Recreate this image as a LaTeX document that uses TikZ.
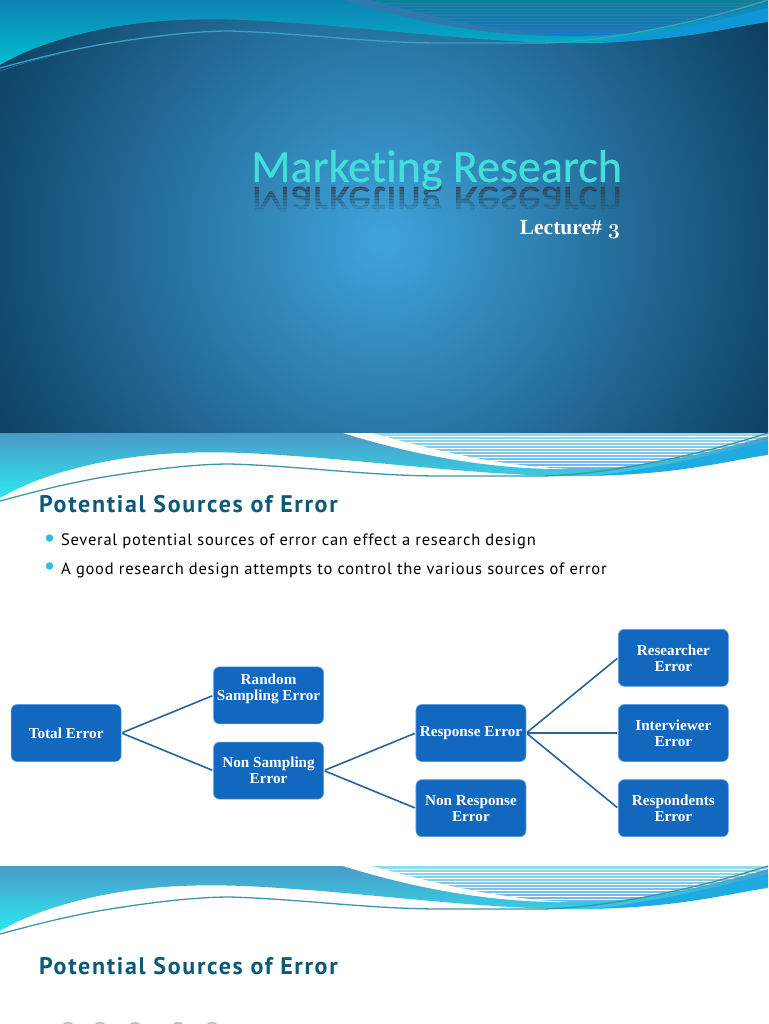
\documentclass[tikz,border=0pt]{standalone}
\usepackage{fontspec}
\usepackage{tikz}
\usetikzlibrary{matrix}
\newfontfamily\titlefont[Ligatures=NoCommon,FakeBold=0.6]{Carlito}
\newfontfamily\headfont[LetterSpace=7]{PT Sans}
\newfontfamily\bulletfont[LetterSpace=4.6]{PT Sans}
\newfontfamily\boxfont{Liberation Serif}
\newfontfamily\oldfig[Numbers=OldStyle]{Latin Modern Roman}
\definecolor{boxblue}{HTML}{1268BE}
\definecolor{boxedge}{HTML}{5C9FE0}
\definecolor{linkblue}{HTML}{2A62A0}
\definecolor{headteal}{HTML}{0D5A78}
\definecolor{bulletcyan}{HTML}{22C4DC}
\definecolor{titlecyan}{HTML}{45DCDC}
\definecolor{glowin}{RGB}{64,164,220}
\definecolor{glowout}{RGB}{4,48,79}
\definecolor{mirrorgray}{RGB}{45,62,78}
% first slide wave
\definecolor{darktop}{RGB}{15,130,178}
\definecolor{darkbot}{RGB}{0,190,208}
\definecolor{darkswoosh}{RGB}{44,122,174}
\definecolor{darkstripea}{RGB}{12,130,150}
\definecolor{darkstripeb}{RGB}{20,120,200}
\definecolor{darktip}{RGB}{14,150,214}
\definecolor{darkline}{RGB}{60,160,190}
% other slides wave
\definecolor{lighttop}{RGB}{74,154,200}
\definecolor{lightbot}{RGB}{44,232,240}
\definecolor{lightstripea}{RGB}{150,220,228}
\definecolor{lightstripeb}{RGB}{110,176,236}
\definecolor{lighttip}{RGB}{30,170,226}
\definecolor{lightline}{RGB}{60,150,170}
\tikzset{
	errorbox/.style={draw=boxedge, line width=0.6pt, fill=boxblue, rounded corners=6pt, text=white,
		minimum width=110pt, minimum height=57pt, inner sep=0pt, align=center, font=\boxfont\bfseries\fontsize{15.2}{16}\selectfont},
	link/.style={draw=linkblue, line width=1.6pt, shorten <=1pt, shorten >=1pt},
	heading/.style={anchor=base west, inner sep=0pt, text=headteal, font=\headfont\bfseries\fontsize{24}{28}\selectfont},
	bullettext/.style={anchor=base west, inner sep=0pt, text=black, font=\bulletfont\fontsize{16.5}{20}\selectfont},
	bulletdot/.style={circle, fill=bulletcyan, minimum size=7.5pt, inner sep=0pt},
}
% the wave at the top of a slide
\newcommand{\slidewave}[8]{
\begin{scope}[yshift=#1]
	\shade[top color=#2, bottom color=#3]
	(0,0) -- (768,0) -- (768,22) .. controls (700,32) and (640,45) .. (564,43)
	.. controls (480,42) and (370,28) .. (294,23) .. controls (240,19) and (170,15) .. (98,30)
	.. controls (60,38) and (25,50) .. (0,65) -- cycle;
	\fill[#7] (768,8) .. controls (720,20) and (670,33) .. (600,42)
	.. controls (660,42) and (715,32) .. (768,21) -- cycle;
	\fill[#4] (343,0) .. controls (400,18) and (480,36) .. (560,36) -- (600,35) -- (372,0) -- cycle;
	\begin{scope}
		\clip (372,0) .. controls (430,16) and (500,34) .. (575,36)
		.. controls (640,36) and (700,22) .. (768,3) -- (768,0) -- cycle;
		\shade[top color=#5, bottom color=#6] (372,0) rectangle (768,37);
		\foreach \ypos in {3,6,...,33}
			\draw[#4, line width=0.7pt] (372,\ypos) -- (768,\ypos);
	\end{scope}
	\draw[#8, line width=1.3pt] (0,68) .. controls (30,60) and (60,52) .. (98,45)
	.. controls (140,38) and (190,31) .. (230,31) .. controls (300,33) and (370,43) .. (441,43)
	-- (539,43) .. controls (590,43) and (680,28) .. (768,0);
	\draw[#4, line width=0.5pt] (0,71) .. controls (15,66) and (30,61) .. (60,54);
\end{scope}
}
\begin{document}
\begin{tikzpicture}[x=1pt,y=-1pt]
\useasboundingbox (0,0) rectangle (768,1024);
\fill[white] (0,0) rectangle (768,1024);

% title slide
\begin{scope}
	\clip (0,0) rectangle (768,433);
	\shade[inner color=glowin, outer color=glowout] (-120,-260) rectangle (888,740);
	\slidewave{0pt}{darktop}{darkbot}{darkswoosh}{darkstripea}{darkstripeb}{darktip}{darkline}
\end{scope}
% reflection, in strips that get fainter
\foreach \ypos/\fade in {185/0.7,188/0.62,191/0.54,194/0.46,197/0.38,200/0.3,203/0.22,206/0.14,209/0.07}
{
	\begin{scope}
		\clip (240,\ypos) rectangle (640,\ypos+3);
		\node[anchor=base east, yscale=-1, inner sep=0pt, text=mirrorgray, text opacity=\fade, font=\titlefont\fontsize{46}{50}\selectfont] (mirror\ypos) at (622,187) {Marketing Research};
	\end{scope}
}
\node[anchor=base east, inner sep=0pt, text=titlecyan, font=\titlefont\fontsize{46}{50}\selectfont] (title) at (622,182) {Marketing Research};
\node[anchor=base east, inner sep=0pt, text=white, font=\boxfont\bfseries\fontsize{21.5}{24}\selectfont] (lecture) at (621,234) {Lecture\# {\oldfig 3}};

% second slide
\slidewave{-433pt}{lighttop}{lightbot}{white}{lightstripea}{lightstripeb}{lighttip}{lightline}
\node[heading] (head) at (39,512) {Potential Sources of Error};
\node[bulletdot] (dot1) at (49.5,538) {};
\node[bullettext] (bull1) at (61,545) {Several potential sources of error can effect a research design};
\node[bulletdot] (dot2) at (49.5,566) {};
\node[bullettext] (bull2) at (61,574) {A good research design attempts to control the various sources of error};

\matrix (m) [row sep=-20pt, column sep=91.8pt] at (369.75,733)
{
	& & & \node[errorbox] (researcher) {Researcher\\Error}; \\
	& \node[errorbox] (random) {Random\\Sampling Error\\[-4pt]\strut}; & & \\
	\node[errorbox] (total) {Total Error}; & & \node[errorbox] (response) {Response Error}; & \node[errorbox] (interviewer) {Interviewer\\Error}; \\
	& \node[errorbox] (nonsampling) {Non Sampling\\Error}; & & \\
	& & \node[errorbox] (nonresponse) {Non Response\\Error}; & \node[errorbox] (respondents) {Respondents\\Error}; \\
};
\path[link]
(total.east) edge (random.west)
edge (nonsampling.west)
(nonsampling.east) edge (response.west)
edge (nonresponse.west)
(response.east) edge (researcher.west)
edge (interviewer.west)
edge (respondents.west)
;

% third slide, cut off at the bottom
\slidewave{-866pt}{lighttop}{lightbot}{white}{lightstripea}{lightstripeb}{lighttip}{lightline}
\node[heading] (headb) at (39,974) {Potential Sources of Error};
\foreach \xpos in {68,100,135,178,212}
	\fill[black!25] (\xpos,1024) ellipse (5pt and 2pt);
\end{tikzpicture}
\end{document}
